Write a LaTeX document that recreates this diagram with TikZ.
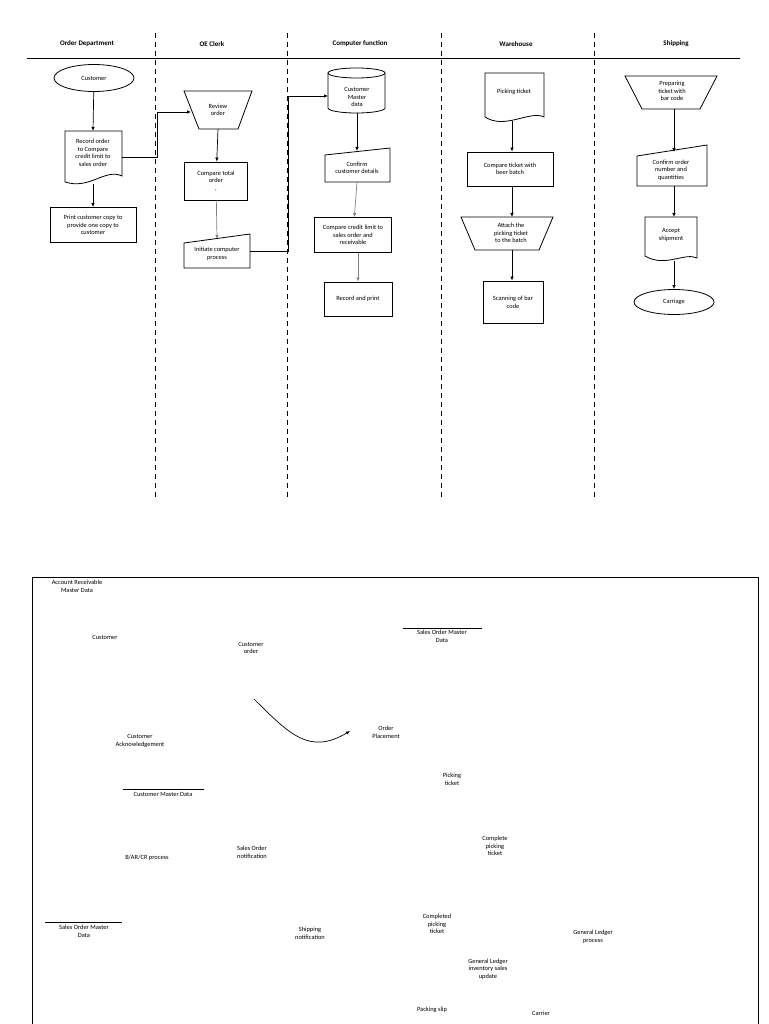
\documentclass[tikz,border=0pt]{standalone}
\usepackage{fontspec}
\setmainfont{Carlito}
\usetikzlibrary{arrows.meta,shapes.geometric}
\begin{document}
\begin{tikzpicture}[x=1pt,y=-1pt,
  shp/.style={draw,line width=0.8pt,fill=white},
  lbl/.style={font=\fontsize{6.4}{7.6}\selectfont,align=center,inner sep=0pt},
  hdr/.style={font=\bfseries\fontsize{7}{8.5}\selectfont,inner sep=0pt},
  arr/.style={-{Latex[length=4pt,width=3.5pt]},line width=0.7pt},
  lane/.style={dashed,line width=0.8pt,dash pattern=on 5pt off 4pt}]
\useasboundingbox (0,0) rectangle (768,1024);
% header
\draw[line width=0.8pt] (27,58) -- (740,58);
\foreach \x in {155,287,441,594} \draw[lane] (\x,33) -- (\x,497);
\node[hdr] (h1) at (87,44) {Order Department};
\node[hdr] (h2) at (212,44) {OE Clerk};
\node[hdr] (h3) at (360,44) {Computer function};
\node[hdr] (h4) at (516,44) {Warehouse};
\node[hdr] (h5) at (676,44) {Shipping};
% Order department
\node[shp,ellipse,minimum width=80pt,minimum height=27pt,lbl] (cust) at (94,78) {Customer};
\draw[shp] (65,131) -- (122,131) -- (122,176) .. controls (105,168) and (90,190) .. (65,182) -- cycle;
\node[lbl] (rec) at (93,153) {Record order\\to Compare\\credit limit to\\sales order};
\coordinate (recT) at (93,131); \coordinate (recB) at (93,184); \coordinate (recR) at (122,157);
\node[shp,lbl,minimum width=86pt,minimum height=35pt] (print) at (93,225) {Print customer copy to\\provide one copy to\\customer};
\draw[arr] (cust) -- (recT);
\draw[arr] (recB) -- (print);
% OE Clerk
\draw[shp] (184,91) -- (252,91) -- (238,129) -- (199,129) -- cycle;
\node[lbl] (rev) at (218,110) {Review\\order};
\coordinate (revL) at (191,112); \coordinate (revB) at (218,129);
\node[shp,lbl,minimum width=63pt,minimum height=38pt] (cmp) at (216,181) {Compare total\\order\\,};
\draw[shp] (184,243) -- (250,234) -- (250,268) -- (184,268) -- cycle;
\node[lbl] (init) at (217,254) {Initiate computer\\process};
\coordinate (initT) at (217,239); \coordinate (initR) at (250,251);
\draw[arr] (recR) -- (157,157) -- (157,112) -- (revL);
\draw[arr] (revB) -- (cmp);
\draw[arr,gray] (cmp) -- (initT);
% Computer function
\draw[shp] (328,73) -- (328,108) arc[start angle=180,end angle=0,x radius=28.5,y radius=5] -- (385,73) arc[start angle=0,end angle=-180,x radius=28.5,y radius=5];
\draw[line width=0.8pt] (328,73) arc[start angle=180,end angle=0,x radius=28.5,y radius=5];
\node[lbl] (cmd) at (357,97) {Customer\\Master\\data};
\coordinate (cmdL) at (328,96); \coordinate (cmdB) at (357,113);
\draw[arr] (initR) -- (288,251) -- (288,96) -- (cmdL);
\draw[shp] (325,155) -- (390,148) -- (390,182) -- (325,182) -- cycle;
\node[lbl] (conf) at (357,168) {Confirm\\customer details};
\coordinate (confT) at (357,151); \coordinate (confB) at (357,182);
\draw[arr] (cmdB) -- (confT);
\node[shp,lbl,minimum width=77pt,minimum height=35pt] (ccl) at (353,235) {Compare credit limit to\\sales order and\\receivable};
\draw[arr,gray] (confB) -- (ccl);
\node[shp,lbl,minimum width=68pt,minimum height=34pt] (rp) at (358,299) {Record and print};
\draw[arr,gray] (ccl.south -| rp) -- (rp);
% Warehouse
\draw[shp] (485,73) -- (544,73) -- (544,117) .. controls (530,110) and (505,130) .. (485,117) -- cycle;
\node[lbl] (pt) at (514,92) {Picking ticket};
\coordinate (ptB) at (512,121);
\node[shp,lbl,minimum width=86pt,minimum height=34pt] (ctb) at (510,169) {Compare ticket with\\beer batch};
\draw[arr] (ptB) -- (ctb.north -| ptB);
\draw[shp] (461,217) -- (553,217) -- (539,250) -- (475,250) -- cycle;
\node[lbl] (att) at (511,233) {Attach the\\picking ticket\\to the batch};
\coordinate (attT) at (512,217); \coordinate (attB) at (512,250);
\draw[arr] (ctb.south -| attT) -- (attT);
\node[shp,lbl,minimum width=60pt,minimum height=42pt] (scan) at (513,302) {Scanning of bar\\code};
\draw[arr] (attB) -- (scan.north -| attB);
% Shipping
\draw[shp] (625,76) -- (717,76) -- (700,109) -- (642,109) -- cycle;
\node[lbl] (prep) at (672,91) {Preparing\\ticket with\\bar code};
\coordinate (prepB) at (674,109);
\draw[shp] (637,156) -- (707,145) -- (707,186) -- (637,186) -- cycle;
\node[lbl] (co) at (671,170) {Confirm order\\number and\\quantities};
\coordinate (coT) at (674,152); \coordinate (coB) at (674,186);
\draw[arr] (prepB) -- (coT);
\draw[shp] (645,217) -- (697,217) -- (697,258) .. controls (685,252) and (665,268) .. (645,256) -- cycle;
\node[lbl] (acc) at (671,235) {Accept\\shipment};
\coordinate (accT) at (674,217); \coordinate (accB) at (674,261);
\draw[arr] (coB) -- (accT);
\node[shp,ellipse,minimum width=80pt,minimum height=25pt,lbl] (carr) at (674,302) {Carriage};
\draw[arr] (accB) -- (carr);
% Bottom frame
\draw[line width=0.8pt] (32,1024) -- (32,577) -- (758,577) -- (758,1024);
\node[lbl] (arm) at (77,586) {Account Receivable\\Master Data};
\node[lbl] (bcust) at (105,637) {Customer};
\node[lbl] (corder) at (251,648) {Customer\\order};
\node[lbl] (som1) at (442,636) {Sales Order Master\\Data};
\draw[line width=0.8pt] (403,628) -- (482,628);
\node[lbl] (op) at (386,732) {Order\\Placement};
\coordinate (cvS) at (254,699); \coordinate (cvE) at (350,731);
\draw[arr] (cvS) .. controls (290,735) and (310,755) .. (cvE);
\node[lbl] (cack) at (140,741) {Customer\\Acknowledgement};
\draw[line width=0.8pt] (123,789) -- (204,789);
\node[lbl] (cmd2) at (163,794) {Customer Master Data};
\node[lbl] (pt2) at (452,779) {Picking\\ticket};
\node[lbl] (bar) at (147,858) {B/AR/CR process};
\node[lbl] (son) at (252,852) {Sales Order\\notification};
\node[lbl] (cpt) at (495,846) {Complete\\picking\\ticket};
\draw[line width=0.8pt] (45,922) -- (122,922);
\node[lbl] (som2) at (84,931) {Sales Order Master\\Data};
\node[lbl] (sn) at (310,933) {Shipping\\notification};
\node[lbl] (cdpt) at (437,924) {Completed\\picking\\ticket};
\node[lbl] (glp) at (593,937) {General Ledger\\process};
\node[lbl] (glu) at (488,969) {General Ledger\\inventory sales\\update};
\node[lbl] (ps) at (432,1010) {Packing slip};
\node[lbl] (car) at (541,1013) {Carrier};
\end{tikzpicture}
\end{document}
